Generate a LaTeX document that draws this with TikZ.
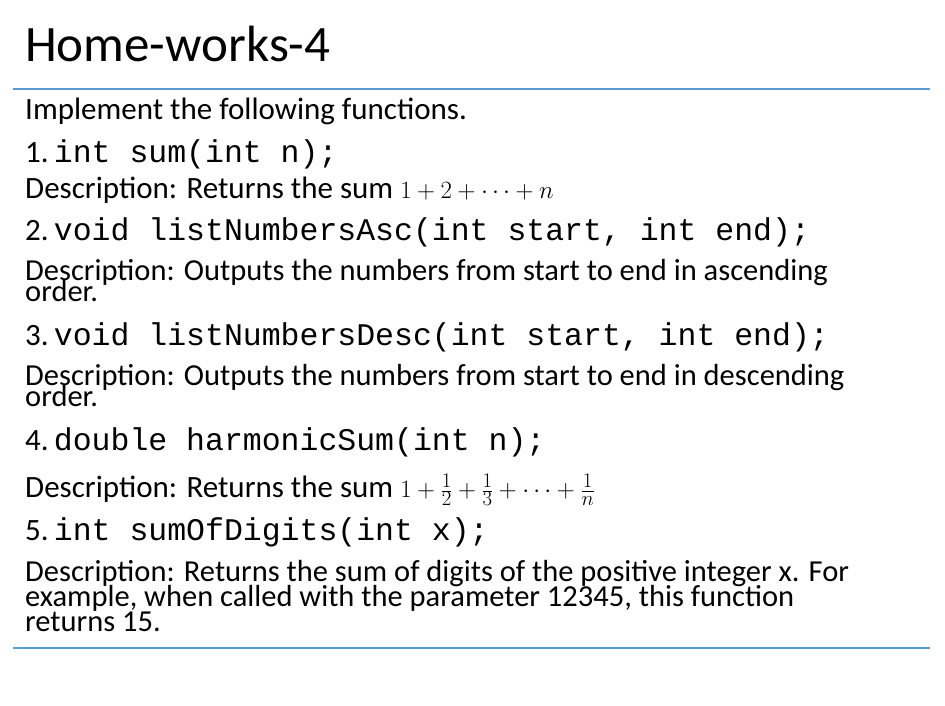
\documentclass[tikz,border=0pt]{standalone}
\usepackage{fontspec}
\setmainfont{Carlito}
\setmonofont{Liberation Mono}
\definecolor{rule}{RGB}{91,155,213}
\begin{document}
\begin{tikzpicture}[x=1pt,y=-1pt,
  txt/.style={anchor=base west,inner sep=0pt,font=\fontsize{31}{32}\selectfont},
  tight/.style={anchor=base west,inner sep=0pt,font=\fontsize{30.5}{32}\selectfont}]
\newcommand\cd[1]{\texttt{\fontsize{31.5}{32}\selectfont #1}}
\useasboundingbox (0,0) rectangle (945,706);
\node[anchor=base west,inner sep=0pt,font=\fontsize{51}{52}\selectfont] (title) at (25,62) {Home-works-4};
\draw[rule,line width=2.5pt] (13,89) -- (930,89);
\draw[rule,line width=2.5pt] (13,648) -- (930,648);
\node[txt] (l0) at (25,120) {Implement the following functions.};
\node[txt] (l1) at (25,162) {1.\,\cd{int sum(int n);}};
\node[txt] (d1) at (25,198) {Description: Returns the sum $1+2+\cdots+n$};
\node[txt] (l2) at (25,240) {2.\,\cd{void listNumbersAsc(int start, int end);}};
\node[tight] (d2) at (25,280) {Description: Outputs the numbers from start to end in ascending};
\node[tight] (d2b) at (25,301) {order.};
\node[txt] (l3) at (25,345) {3.\,\cd{void listNumbersDesc(int start, int end);}};
\node[tight] (d3) at (25,385) {Description: Outputs the numbers from start to end in descending};
\node[tight] (d3b) at (25,406) {order.};
\node[txt] (l4) at (25,450) {4.\,\cd{double harmonicSum(int n);}};
\node[txt] (d4) at (25,497) {Description: Returns the sum $1+\frac{1}{2}+\frac{1}{3}+\cdots+\frac{1}{n}$};
\node[txt] (l5) at (25,540) {5.\,\cd{int sumOfDigits(int x);}};
\node[tight] (d5) at (25,581) {Description: Returns the sum of digits of the positive integer x. For};
\node[tight] (d5b) at (25,606) {example, when called with the parameter 12345, this function};
\node[tight] (d5c) at (25,631) {returns 15.};
\end{tikzpicture}
\end{document}
